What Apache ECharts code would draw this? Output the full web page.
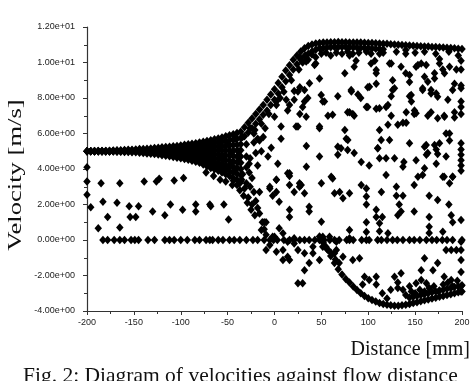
<!DOCTYPE html>
<html><head><meta charset="utf-8">
<script src="https://cdn.jsdelivr.net/npm/echarts@6/dist/echarts.min.js"></script>
<style>html,body{margin:0;padding:0;background:#fff}#c{width:474px;height:381px}</style>
</head><body><div id="c"></div>
<script>
// ---- tick labels ----
const yTicks = [-4, -2, 0, 2, 4, 6, 8, 10, 12];
const yTickLabels = ["-4.00e+00","-2.00e+00","0.00e+00","2.00e+00","4.00e+00","6.00e+00","8.00e+00","1.00e+01","1.20e+01"];

// ---- plateau band (x, several rows of velocity) ----
const bandX = [-200,-196,-192,-188,-184,-180,-176,-172,-168,-164,-160,-156,-152,-148,-144,-140,-136,-132,-128,-124,-120,-116,-112,-108,-104,-100,-96,-92,-88,-84,-80,-76,-72,-68,-64,-60,-56,-52,-48,-44,-40,-36];
const bandTop = [5.00,5.00,5.01,5.01,5.02,5.02,5.03,5.04,5.05,5.06,5.07,5.08,5.09,5.10,5.12,5.13,5.14,5.16,5.18,5.20,5.22,5.24,5.26,5.28,5.30,5.33,5.36,5.39,5.42,5.45,5.50,5.54,5.58,5.62,5.67,5.72,5.78,5.84,5.90,5.96,6.03,6.10];
const bandUpper = [5.00,5.00,5.00,5.01,5.01,5.01,5.02,5.02,5.03,5.03,5.04,5.05,5.05,5.06,5.07,5.07,5.08,5.08,5.10,5.10,5.11,5.12,5.12,5.13,5.14,5.15,5.16,5.17,5.18,5.19,5.21,5.22,5.22,5.23,5.25,5.27,5.28,5.30,5.33,5.35,5.37,5.40];
const bandMid = [5.00,5.00,5.00,5.00,5.00,5.00,5.00,5.01,5.01,5.01,5.01,5.02,5.02,5.02,5.02,5.01,5.01,5.01,5.01,5.00,5.00,5.00,4.99,4.98,4.97,4.96,4.96,4.95,4.94,4.93,4.92,4.90,4.86,4.84,4.82,4.81,4.79,4.77,4.75,4.73,4.71,4.70];
const bandLower = [5.00,5.00,5.00,5.00,4.99,4.99,4.99,5.00,4.99,4.99,4.99,4.99,4.98,4.98,4.97,4.96,4.95,4.94,4.92,4.90,4.89,4.87,4.85,4.83,4.80,4.78,4.76,4.74,4.70,4.67,4.63,4.58,4.50,4.45,4.40,4.35,4.30,4.23,4.18,4.12,4.05,4.00];
const bandBottom = [5.00,5.00,4.99,4.99,4.99,4.98,4.98,4.98,4.97,4.97,4.96,4.96,4.95,4.94,4.92,4.90,4.88,4.86,4.84,4.81,4.78,4.75,4.72,4.68,4.64,4.60,4.56,4.52,4.47,4.41,4.35,4.25,4.15,4.06,3.98,3.90,3.80,3.70,3.60,3.50,3.40,3.30];
// extra rows where the band widens
const bandX2 = [-96,-92,-88,-84,-80,-76,-72,-68,-64,-60,-56,-52,-48,-44,-40,-36];
const bandFill1 = [5.26,5.28,5.30,5.32,5.36,5.38,5.40,5.43,5.46,5.50,5.53,5.57,5.62,5.66,5.70,5.75];
const bandFill2 = [5.06,5.06,5.06,5.06,5.07,5.06,5.04,5.04,5.04,5.04,5.04,5.04,5.04,5.04,5.04,5.05];
const bandFill3 = [4.86,4.85,4.82,4.80,4.78,4.74,4.68,4.65,4.61,4.58,4.55,4.50,4.47,4.43,4.38,4.35];
const bandFill4 = [4.66,4.63,4.59,4.54,4.49,4.42,4.33,4.26,4.19,4.13,4.05,3.97,3.89,3.81,3.73,3.65];

// ---- upper envelope (rising then flat) ----
const envX = [-32,-28,-24,-20,-16,-12,-8,-4,0,4,8,12,16,20,24,28,32,36,40,44,48,52,56,60,64,68,72,76,80,84,88,92,96,100,104,108,112,116,120,124,128,132,136,140,144,148,152,156,160,164,168,172,176,180,184,188,192,196,200];
const envTop = [6.35,6.6,6.85,7.1,7.35,7.6,7.9,8.2,8.5,8.85,9.2,9.55,9.85,10.15,10.4,10.62,10.8,10.93,11.02,11.07,11.1,11.12,11.13,11.14,11.14,11.15,11.14,11.14,11.13,11.13,11.12,11.12,11.11,11.1,11.1,11.08,11.07,11.06,11.05,11.03,11.02,11.0,10.99,10.97,10.96,10.95,10.93,10.92,10.9,10.9,10.88,10.87,10.86,10.85,10.83,10.82,10.8,10.78,10.76];
const envInner = [5.85,6.05,6.3,6.55,6.8,7.05,7.3,7.6,7.9,8.25,8.6,8.95,9.3,9.6,9.9,10.15,10.35,10.5,10.62,10.72,10.8,10.82,10.85,10.86,10.87,10.88,10.88,10.87,10.86,10.85,10.84,10.83,10.82,10.8,10.79,10.78,10.76,10.75];

// ---- lower envelope (falling curve) ----
const lowX = [48,52,56,60,64,68,72,76,80,84,88,92,96,100,104,108,112,116,120,124,128,132,136,140,144,148,152,156,160,164,168,172,176,180,184,188,192,196,200];
const lowY = [0.2,-0.15,-0.5,-0.9,-1.3,-1.65,-1.95,-2.2,-2.4,-2.62,-2.82,-3.0,-3.15,-3.28,-3.38,-3.47,-3.55,-3.6,-3.65,-3.68,-3.7,-3.7,-3.68,-3.65,-3.6,-3.55,-3.5,-3.45,-3.4,-3.35,-3.3,-3.25,-3.2,-3.15,-3.1,-3.05,-3.0,-2.95,-2.9];
const lowInnerX = [144,148,152,156,160,164,168,172,176,180,184,188,192,196,200];
const lowInnerY = [-3.25,-3.2,-3.15,-3.1,-3.05,-3.0,-2.95,-2.9,-2.85,-2.8,-2.75,-2.7,-2.65,-2.6,-2.55];

// ---- points lying on zero velocity ----
const zeroX = [-183,-178,-171,-165,-160,-153,-149,-145,-135,-128,-117,-112,-107,-100,-93,-85,-80,-73,-69,-66,-60,-55,-48,-43,-37,-30,-23,-18,-11,-5,-1,3,10,16,21,27,32,37,43,48,53,59,64,69,77,80,84,93,98,101,110,114,120,126,131,137,144,149,155,162,168,173,179,184,190,200];

// ---- scattered points, left half ----
const scatterLeft = [[-200,4.1],[-200,3.3],[-185,3.2],[-165,3.2],[-139,3.3],[-126,3.3],[-123,3.45],[-107,3.35],[-97,3.5],
[-200,2.55],[-196,1.85],[-183,2.15],[-168,2.1],[-155,1.9],[-145,1.9],[-178,1.3],[-154,1.3],[-148,1.3],
[-130,1.6],[-117,1.4],[-111,2.0],[-98,1.7],[-84,2.0],[-84,1.6],[-68,1.9],[-188,0.66],[-165,0.7],
[-54,2.0],[-49,1.15],[-69,2.0],[-48,4.1],[-73,3.8],[-65,3.6],[-58,3.4],[-52,3.3],[-45,3.1],
[-58,5.3],[-54,4.6],[-50,5.5],[-46,4.9],[-42,5.7],[-38,5.0],[-34,5.8],[-30,5.4],[-26,6.3],[-22,5.5],[-46,4.3],[-42,3.9],[-38,4.4],[-34,3.7],[-30,4.1],[-26,4.6],[-24,3.5],[-20,4.9],[-18,4.2],[-14,5.0],[-12,5.8],
[-30,3.2],[-26,3.0],[-22,2.7],[-20,2.2],[-18,1.8],[-16,1.5],[-32,2.9],[-28,2.4],[-24,2.0],[-35,3.4],[-40,3.1],[-44,3.35],
[-37,2.8],[-33,2.5],[-29,2.1],[-25,1.7],[-21,1.4],[-13,1.0],[-11,0.6],[-9,0.3],
[-16,5.6],[-3.5,5.2],[-7,4.7],[3.5,4.3],[7,5.7],[-21,6.2],[-30,4.7],[-27,4.3],[-27,3.8],[-37,4.7],[-37,3.2],[-5,3.0],[2,2.7],[-16,2.7],[2,3.4],[-9,1.0],[5,0.66],
[-11,1.0],[-5,2.9],[-2,2.5],[-14,0.56],[-9,-0.56],[-5,-0.28],[2,-0.66],[0,0.19]];

// ---- scattered points, upper right ----
const scatterUpper = [[44,9.95],[48,9.1],[75,9.4],[80,10.4],[85,9.76],[87,10.1],[82,8.36],[89,8.2],[92,8.0],[99.5,8.6],[67.5,8.1],[51.5,7.8],[35.5,8.0],[32,8.45],[25,8.36],[16,7.6],[12.5,7.9],[2,7.8],[25,6.4],[48,6.4],[78,7.2],[85,7.0],[98,7.5],[108.5,7.4],[119,7.5],[108.5,8.8],[108.5,9.4],[107,10.1],[112,10.5],[124.5,9.95],[126,9.0],[128,8.55],[124.5,8.1],[140,10.5],[140,9.4],[144,8.1],[146,7.8],[151,9.76],[156.5,9.95],[160,9.2],[158,8.45],[170.7,9.1],[167,8.26],[174,8.07],[179.5,9.6],[186.7,9.76],[192,8.8],[199,10.1],[199,9.6],[199,8.55],[199,7.8],[199,7.1],[181,7.0],[192,7.2],[167,7.2],[149,7.1],[163.5,7.0],[137,6.6],[131.5,6.5],[121,6.5],[112,6.2],[75,6.2],[76.5,5.7],[78,5.07],[85,4.9],[67.5,5.26],[48,4.7],[34,4.13],[14,3.76],[16,3.6],[60.5,3.57],[92.5,4.4],[101,4.2],[110,5.17],[112,4.6],[119,4.6],[128,4.6],[137,4.13],[138,4.4],[151,4.5],[160,5.26],[162,4.8],[170.7,5.35],[172.5,4.3],[176,5.45],[186.7,6.0],[199,5.45],[199,5.1],[199,4.8],[199,4.5],[199,4.2],[179.5,3.57],[190,3.57],[160,4.04],
[33.8,10.05],[42.7,9.86],[37.3,8.83],[49.8,8.17],[32,7.8],[53.3,7.8],[83.5,10.5],[81.8,8.45],[101.3,8.64],[103,10.5],[103,9.95],[108.5,9.58],[99.5,7.5],[112,7.42],[121,7.6],[122.7,9.95],[126,8.45],[135,9.76],[144,9.3],[144,8.9],[145.8,8.17],[151,7.14],[153,9.86],[158,8.55],[161.8,9.86],[163.5,8.92],[167,8.45],[170.7,9.4],[172.5,8.26],[176,10.2],[176,9.95],[181.3,9.4],[184.9,7.9],[190,8.45],[194,9.6],[199,8.7],[199,7.5],[192,6.9],[181.3,6.95],[174,6.86],[149.3,7.3],[140.5,7.2],[124.5,7.0],[140.5,6.6],[113.8,5.63],[122.7,5.63],[110.2,5.17],[78.2,5.63],[71,5.17],[67.5,4.8],[48,6.3],[57,7.0],[62,7.05],[80,7.2],[83.5,7.1],[33.8,6.95],[30,7.5],[144,5.45],[161.8,5.35],[163.5,4.9],[172.5,5.1],[183,6.0],[186.7,5.6],[174,4.85],[183,4.7],
[0,6.95],[14,7.3],[27,7.1],[21,8.4],[21,7.9],[27,8.6],[23,6.4],[7,6.4],[34,5.3],[26.7,3.2],[26.7,3.0],[16,1.7],[16,1.3],
[27,10.3],[30,10.0],[33,10.4],[36,10.15],[40,10.45],[44,10.3],[50,10.5],[55,10.55],[60,10.4],[66,10.55],[72,10.5],[78,10.6],[90,10.55],[98,10.6],[116,10.55],[130,10.6],[140,10.7],[150,10.55],[160,10.6],[172,10.5],[186,10.6],[196,10.4],
[-22,6.0],[-14,6.55],[-6,7.1],[2,7.6],[10,8.35],[18,9.0],[26,9.6],[-18,5.7],[-10,6.3],[6,8.0]];

// ---- scattered points, lower right ----
const scatterLower = [[2,3.4],[16,3.76],[16,3.1],[28.5,3.1],[21,2.7],[32,2.63],[5,2.16],[37,1.88],[50,3.2],[62,3.47],[64,2.63],[69.5,2.7],[73,2.35],[80,2.63],[92.5,3.1],[98,2.9],[98,2.45],[98,2.0],[114,2.7],[119,3.66],[130,3.0],[130,2.5],[137,2.5],[131.5,1.4],[149,1.6],[149,3.1],[153,3.57],[158,3.66],[165,2.5],[174,2.25],[181,3.57],[186.7,3.2],[190,3.57],[199,3.9],[37,1.6],[50,1.03],[108.5,1.7],[108.5,1.3],[112,0.94],[112,0.5],[121,0.38],[115,1.3],[98,1.0],[98,0.45],[80,0.56],[80,0.1],[165,1.3],[165,0.75],[165,0.4],[179.5,0.47],[188.5,1.4],[199,1.13],[133,2.0],[135,1.6],[186,2.0],[190,1.0],
[199,-0.1],[199,-0.56],[199,-1.13],[199,-1.8],[194,-0.56],[183,-0.56],[188.5,-0.56],[160,-1.03],[174,-1.3],[169,-1.7],[156.5,-1.7],[156.5,-2.25],[128,-2.07],[131.5,-2.4],[131.5,-2.7],[135,-1.88],[151,-2.44],[108.5,-2.07],[108.5,-2.5],[101,-2.25],[96,-2.07],[94,-2.5],[137,-2.8],[144,-2.6],[162,-2.44],[181,-2.07],[188.5,-2.25],[199,-2.6],
[-2,0.19],[9,0.38],[9,-0.56],[14,-0.1],[14,-0.94],[21,0.1],[21,-0.2],[25,-0.56],[32,-0.75],[41,-0.38],[41,-0.75],[51.5,0.19],[51.5,-0.38],[57,-0.56],[58.7,0.19],[66,-0.1],[66,-0.56],[73,-0.94],[64,-0.75],[83.5,-1.13],[90.7,-1.03],[37,-1.3],[32,-1.7],[25,-2.44],[30,-2.44],[48,-1.13],[9,-1.13],[16,-1.13],
[55,-0.4],[60,-0.7],[65,-1.1],[69,-1.3],
[150,-3.0],[155,-2.8],[160,-2.9],[165,-2.7],[170,-2.6],[175,-2.9],[180,-2.5],[185,-2.4],[190,-2.6],[195,-2.3],[199,-2.9],[140,-3.1],[146,-2.9],[120,-3.3],[115,-3.0],[124,-2.8]];

// ---- build ----
const pair = (xs, ys) => ys.map((y, i) => [xs[i], y]);
const bandData = [].concat(pair(bandX, bandTop), pair(bandX, bandUpper), pair(bandX, bandMid), pair(bandX, bandLower), pair(bandX, bandBottom),
  pair(bandX2, bandFill1), pair(bandX2, bandFill2), pair(bandX2, bandFill3), pair(bandX2, bandFill4));
const envData = [].concat(pair(envX, envTop), pair(envX, envInner));
const lowData = [].concat(pair(lowX, lowY), pair(lowInnerX, lowInnerY));
const zeroData = zeroX.map(x => [x, 0]);

const base = { type: 'scatter', symbol: 'diamond', symbolSize: [7.5, 8.5], itemStyle: { color: '#000', opacity: 1 }, silent: true };
const chart = echarts.init(document.getElementById('c'));
chart.setOption({
  animation: false,
  grid: { left: 87, top: 27, width: 375, height: 284 },
  xAxis: {
    type: 'value', min: -200, max: 200, interval: 50,
    axisLine: { onZero: false, lineStyle: { color: '#333', width: 1.2 } },
    axisTick: { length: 4, lineStyle: { color: '#333' } },
    minorTick: { show: true, splitNumber: 2, length: 3, lineStyle: { color: '#333' } },
    splitLine: { show: false },
    axisLabel: { fontSize: 9, color: '#222', fontFamily: 'Liberation Sans', margin: 7 },
    name: 'Distance [mm]', nameLocation: 'end', nameGap: 8,
    nameTextStyle: { fontFamily: 'Liberation Serif', fontSize: 20, color: '#111', align: 'right', verticalAlign: 'top', padding: [29, 0, 0, 0] }
  },
  yAxis: {
    type: 'value', min: -4, max: 12, interval: 2,
    axisLine: { show: true, onZero: false, lineStyle: { color: '#333', width: 1.2 } },
    axisTick: { show: true, length: 4, lineStyle: { color: '#333' } },
    minorTick: { show: true, splitNumber: 2, length: 3, lineStyle: { color: '#333' } },
    splitLine: { show: false },
    axisLabel: { fontSize: 9, color: '#222', fontFamily: 'Liberation Sans', margin: 12,
      formatter: v => yTickLabels[yTicks.indexOf(v)] }
  },
  graphic: [
    { type: 'text', x: 16, y: 175, rotation: Math.PI / 2, scaleX: 1.4,
      style: { text: 'Velocity [m/s]', font: '19px "Liberation Serif"', fill: '#111', align: 'center', verticalAlign: 'middle' } },
    { type: 'text', left: 23, top: 365, style: { text: 'Fig. 2: Diagram of velocities against flow distance', font: '21.5px "Liberation Serif"', fill: '#111' } }
  ],
  series: [
    Object.assign({ name: 'band', data: bandData }, base),
    Object.assign({ name: 'upper', data: envData }, base),
    Object.assign({ name: 'lower', data: lowData }, base),
    Object.assign({ name: 'zero', data: zeroData }, base),
    Object.assign({ name: 'left', data: scatterLeft }, base),
    Object.assign({ name: 'scatterUpper', data: scatterUpper }, base),
    Object.assign({ name: 'scatterLower', data: scatterLower }, base)
  ]
});
</script>
</body></html>
